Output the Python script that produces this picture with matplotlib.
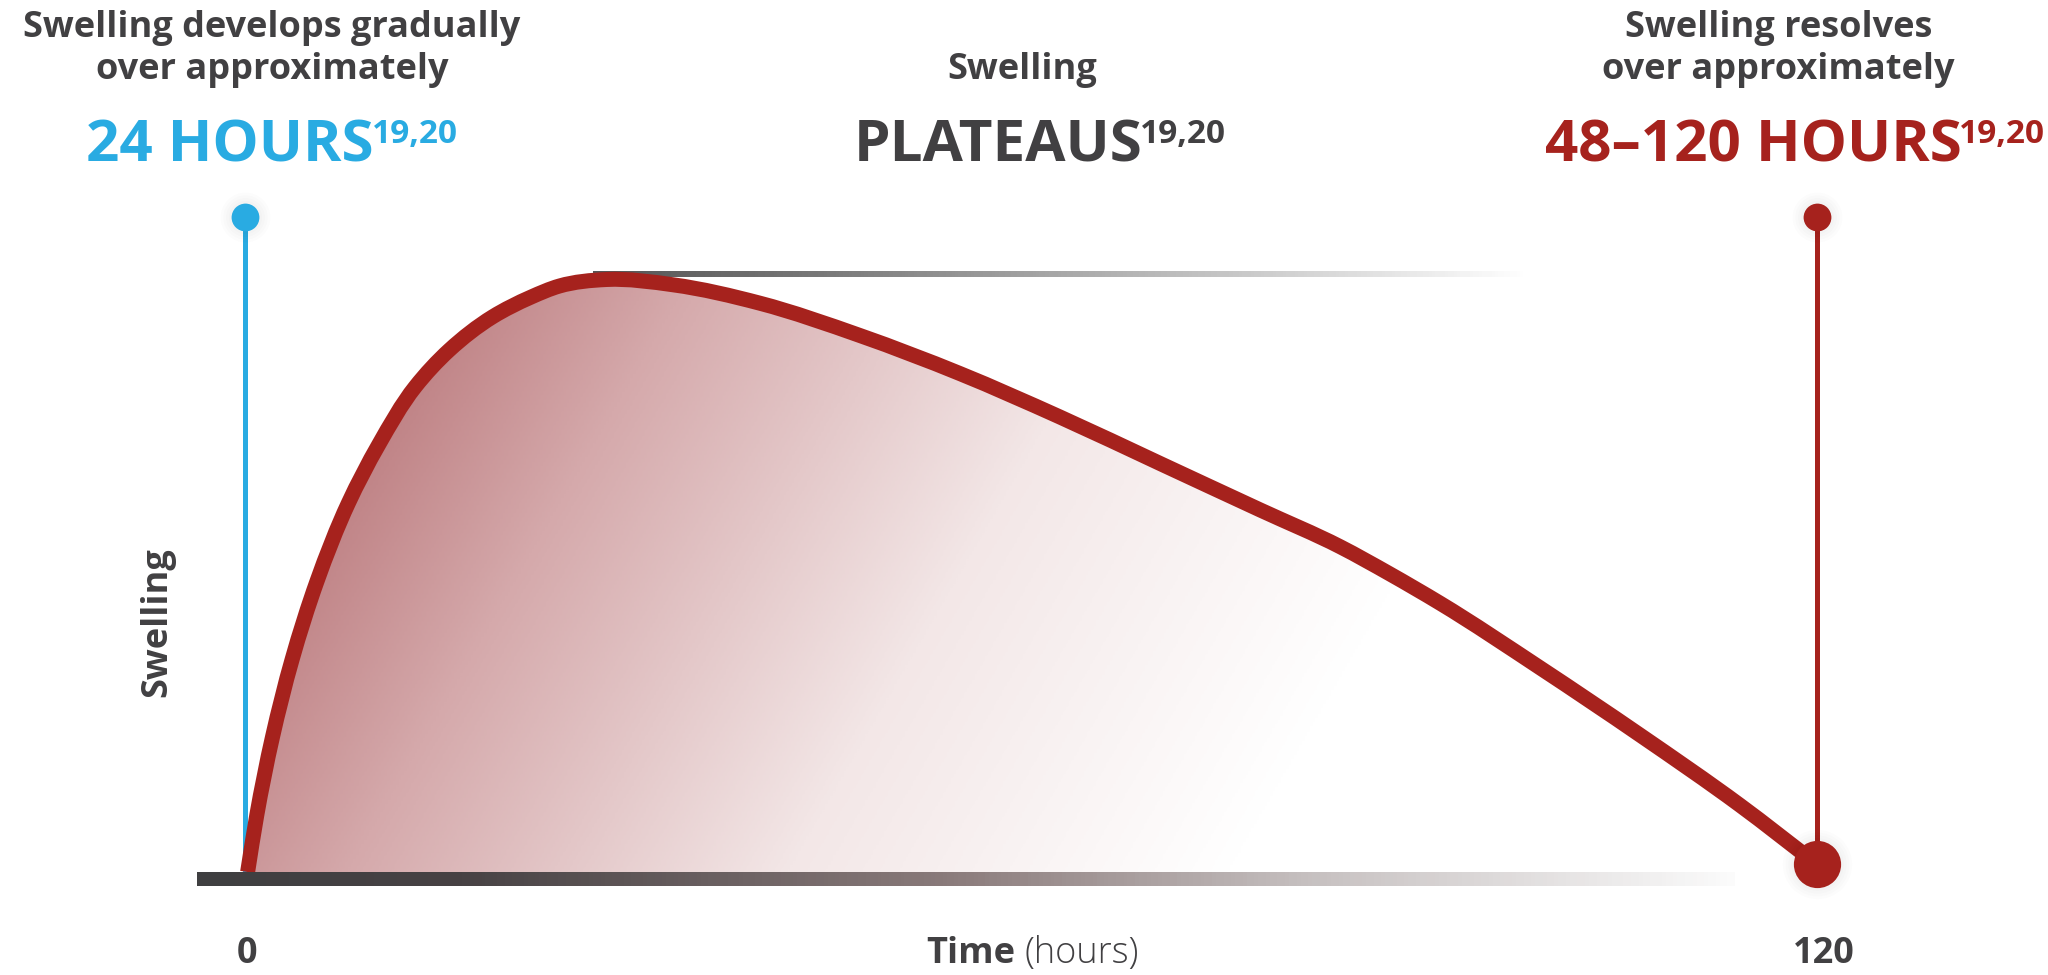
import matplotlib

matplotlib.use("Agg")
import matplotlib.pyplot as plt
import numpy as np
from matplotlib.colors import LinearSegmentedColormap
from matplotlib.patches import PathPatch
from matplotlib.path import Path

W, H = 2048, 975
INK = "#414042"
BLUE = "#29abe2"
RED = "#a6221d"
FONT = ["Open Sans", "DejaVu Sans"]

# swelling curve (hours, % of peak)
hours = [0.2, 0.9, 2.1, 3.6, 5.5, 7.9, 10.2, 13.0, 15.6, 18.9, 21.8, 24.0, 27.6,
         32.7, 39.3, 47.0, 54.6, 62.2, 69.9, 77.5, 83.6, 87.4, 91.2, 98.9, 106.5,
         114.1, 120]
swelling = [0, 9.6, 22.8, 35.9, 49.1, 62.3, 72.1, 81.9, 88.1, 93.7, 97.0, 98.9, 100,
            99.1, 96.0, 90.5, 84.1, 76.8, 68.9, 61.1, 54.9, 50.3, 45.4, 34.4, 23.1,
            11.3, 1.3]
onset_end = 0
resolve_end = 120
marker_level = 110.5
plateau_end = 98
tick_labels = ["0", "120"]

# pixel mapping of the data space
X0, PX_H = 245, 13.1
Y0, PX_S = 872, 5.925


def fx(px):
    return px / W


def fy(py):
    return 1 - py / H


def smooth_path(xs, ys):
    """Bezier path through the points (Bessel tangents in pixel space)."""
    p = np.column_stack([np.asarray(xs) * PX_H, np.asarray(ys) * PX_S])
    n = len(p)
    seg = np.diff(p, axis=0)
    dl = np.hypot(seg[:, 0], seg[:, 1])
    tang = np.zeros_like(p)
    tang[0] = seg[0] / dl[0]
    tang[-1] = seg[-1] / dl[-1]
    for i in range(1, n - 1):
        a, b = dl[i - 1], dl[i]
        d = (b * seg[i - 1] / a + a * seg[i] / b) / (a + b)
        tang[i] = d / np.hypot(*d)
    verts = [p[0]]
    codes = [Path.MOVETO]
    for i in range(n - 1):
        L = dl[i] / 3
        verts += [p[i] + tang[i] * L, p[i + 1] - tang[i + 1] * L, p[i + 1]]
        codes += [Path.CURVE4] * 3
    verts = np.array(verts) / [PX_H, PX_S]
    return verts, codes


fig = plt.figure(figsize=(W / 100, H / 100), dpi=100)
fig.patch.set_facecolor("white")
ax = fig.add_axes([0, 0, 1, 1])
ax.set_xlim(-X0 / PX_H, (W - X0) / PX_H)
ax.set_ylim((Y0 - H) / PX_S, Y0 / PX_S)
ax.axis("off")

cv, cc = smooth_path(hours, swelling)

# gradient fill under the curve
fill_path = Path(np.vstack([cv, [[hours[-1], 0], [hours[0], 0], [hours[0], 0]]]),
                 cc + [Path.LINETO, Path.LINETO, Path.CLOSEPOLY])
clip = PathPatch(fill_path, facecolor="none", edgecolor="none")
ax.add_patch(clip)
tx = np.linspace(-1, 121, 600)
sy = np.linspace(-1, 102, 300)
TT, SS = np.meshgrid(tx, sy)
px = X0 + TT * PX_H
py = Y0 - SS * PX_S
u = ((px - 245) * np.cos(np.radians(30)) + (py - 280) * np.sin(np.radians(30))) / 1150
u = np.clip(u, 0, 1)
fill_cmap = LinearSegmentedColormap.from_list("fill", ["#aa5c60", "#d5a9ab", "#f3e7e7", "#ffffff"])
im = ax.imshow(u, extent=[tx[0], tx[-1], sy[0], sy[-1]], origin="lower",
               cmap=fill_cmap, vmin=0, vmax=1, aspect="auto", zorder=1,
               interpolation="bilinear")
im.set_clip_path(clip)

# plateau guide line
pk = max(swelling)
plat_cmap = LinearSegmentedColormap.from_list(
    "plat", ["#555555", "#7a7a7a", "#a8a8a8", "#d2d2d2", "#ffffff"])
t_pk = hours[swelling.index(pk)]
ax.imshow(np.linspace(0, 1, 300)[None, :],
          extent=[t_pk - 1, plateau_end, pk + 0.35, pk + 1.2],
          cmap=plat_cmap, aspect="auto", zorder=2)

# vertical marker lines
ax.plot([onset_end, onset_end], [0, marker_level], color=BLUE, lw=3.6, zorder=3,
        solid_capstyle="butt")
ax.plot([resolve_end, resolve_end], [swelling[-1], marker_level], color=RED, lw=3.6,
        zorder=3, solid_capstyle="butt")

# curve
ax.add_patch(PathPatch(Path(cv, cc), facecolor="none", edgecolor=RED, lw=10.8,
                       zorder=4, joinstyle="round", capstyle="butt"))

# baseline bar
bar_cmap = LinearSegmentedColormap.from_list(
    "bar", [(0, "#3f3f41"), (0.17, "#474244"), (0.49, "#8a7b7b"),
            (0.72, "#c5bfbf"), (1.0, "#fbfbfb")])
ax.imshow(np.linspace(0, 1, 400)[None, :],
          extent=[(197 - X0) / PX_H, (1735 - X0) / PX_H, -14 / PX_S, 0],
          cmap=bar_cmap, aspect="auto", zorder=5)

# circle markers with faint halos
for t, s, c, ms in [(onset_end, marker_level, BLUE, 20),
                    (resolve_end, marker_level, RED, 20),
                    (resolve_end, swelling[-1], RED, 34)]:
    for k in range(4):
        ax.plot(t, s, "o", ms=ms + 4 + 4 * k, color="black", alpha=0.012,
                mec="none", zorder=6)
    ax.plot(t, s, "o", ms=ms, color=c, mec="none", zorder=7)

# headings
r = fig.canvas.get_renderer()


def line(cx, base, txt, size=26, color=INK, weight="bold"):
    fig.text(fx(cx), fy(base), txt, fontsize=size, fontweight=weight, color=color,
             ha="center", va="baseline", family=FONT)


def headline(cx, big, sup, color):
    t1 = fig.text(0, fy(162), big, fontsize=42, fontweight="bold", color=color,
                  ha="left", va="baseline", family=FONT)
    t2 = fig.text(0, fy(143), sup, fontsize=24, fontweight="bold", color=color,
                  ha="left", va="baseline", family=FONT)
    w1 = t1.get_window_extent(r).width
    w2 = t2.get_window_extent(r).width
    gap = -2
    left = cx - (w1 + gap + w2) / 2
    t1.set_x(fx(left))
    t2.set_x(fx(left + w1 + gap))


line(272, 37, "Swelling develops gradually")
line(272, 79, "over approximately")
headline(272, "24 HOURS", "19,20", BLUE)

line(1022, 79, "Swelling")
headline(1040, "PLATEAUS", "19,20", INK)

line(1779, 37, "Swelling resolves")
line(1778, 79, "over approximately")
headline(1795, "48\u2013120 HOURS", "19,20", RED)

# axis labels
fig.text(fx(157), fy(622), "Swelling", rotation=90, fontsize=26, fontweight="bold",
         color=INK, ha="center", va="center", family=FONT)
line(X0 + onset_end * PX_H + 2, 963, tick_labels[0])
line(X0 + resolve_end * PX_H + 7, 963, tick_labels[1])
fig.text(fx(1015), fy(963), "Time", fontsize=26, fontweight="bold", color=INK,
         ha="right", va="baseline", family=FONT)
fig.text(fx(1025), fy(963), "(hours)", fontsize=26, fontweight="light", color=INK,
         ha="left", va="baseline", family=FONT)

fig.savefig("out.png", dpi=100, facecolor="white")
